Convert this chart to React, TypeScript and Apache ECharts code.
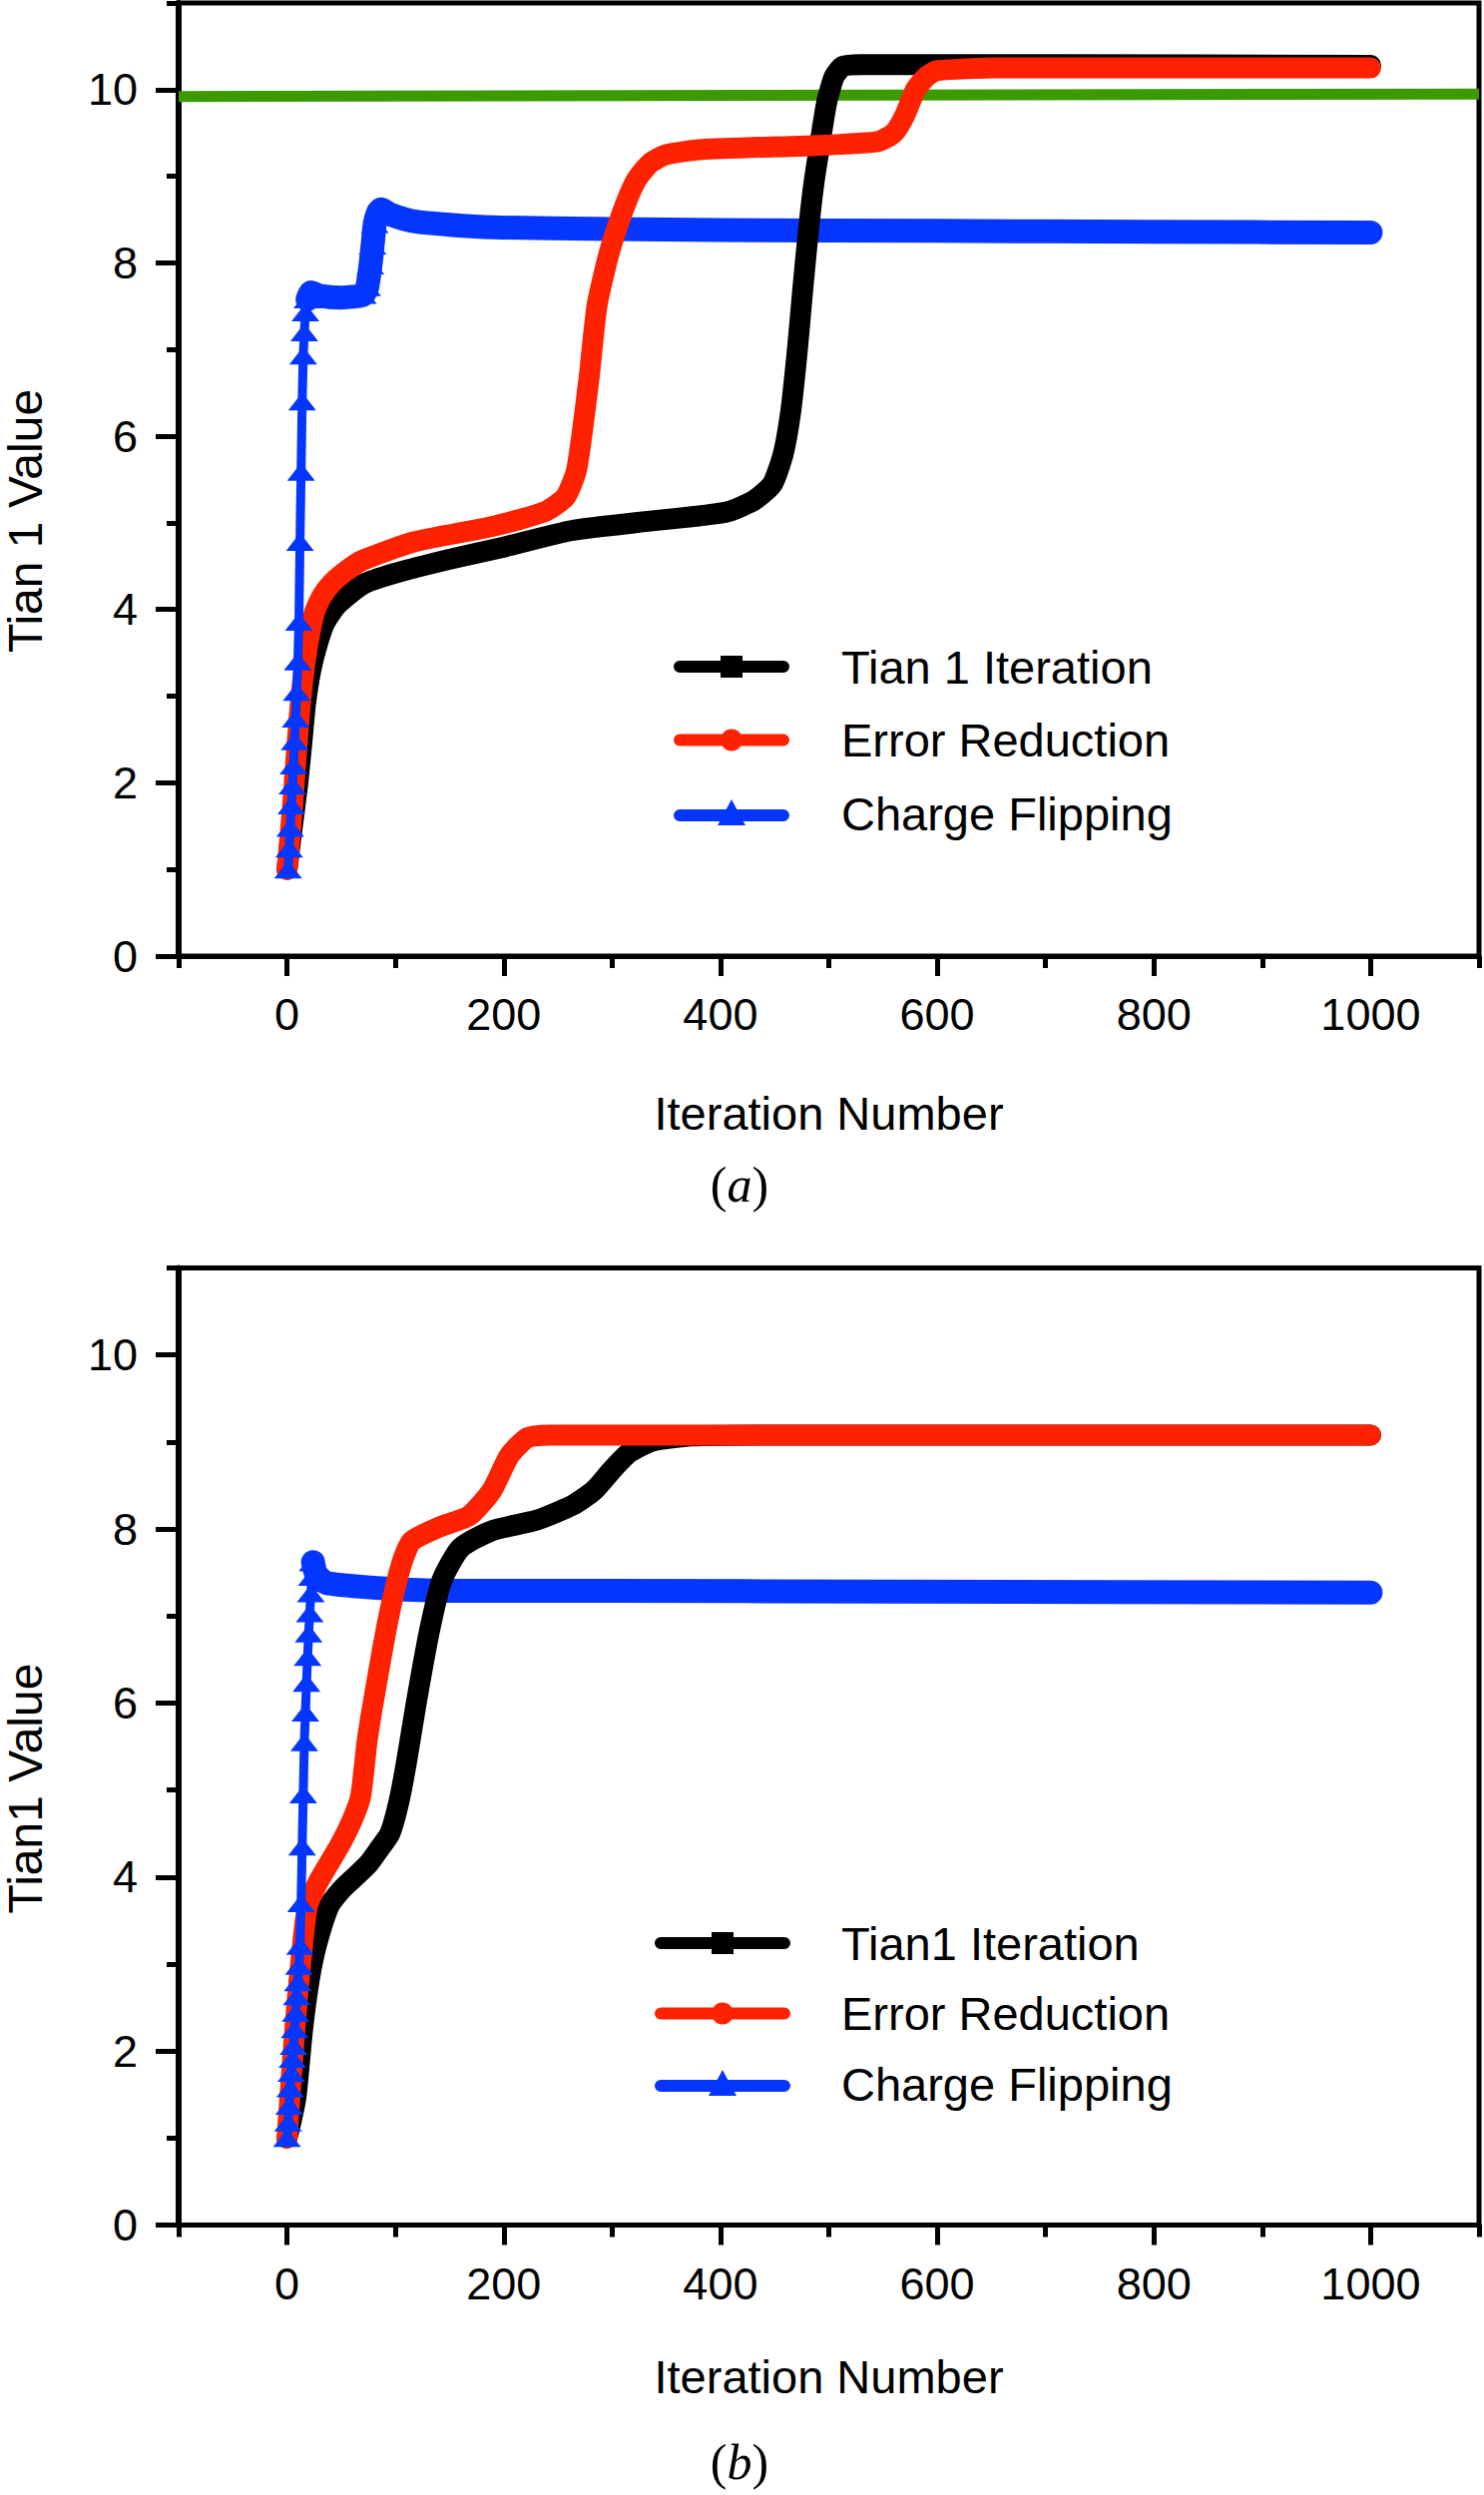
import React, { useEffect, useRef } from "react";
import * as echarts from "echarts";

// ---------- axes ----------
const X_MIN = -100;
const X_MAX = 1100;
const Y_MIN = 0;
const Y_MAX = 11;
const xMajorTicks = [0, 200, 400, 600, 800, 1000];
const xMinorTicks = [-100, 100, 300, 500, 700, 900, 1100];
const yMajorTicks = [0, 2, 4, 6, 8, 10];
const yMinorTicks = [1, 3, 5, 7, 9, 11];
const xTitle = "Iteration Number";
const yTitleA = "Tian 1 Value";
const yTitleB = "Tian1 Value";
const namesA = ["Tian 1 Iteration", "Error Reduction", "Charge Flipping"];
const namesB = ["Tian1 Iteration", "Error Reduction", "Charge Flipping"];
const panelA = "a";
const panelB = "b";

// ---------- panel (a) ----------
const tianA_x = [0, 5, 10, 14, 17, 22, 28, 35, 46, 70, 100, 150, 200, 262, 335, 380, 407, 431, 448, 458, 465, 471, 476, 481, 486, 491, 498, 505, 513, 530, 700, 1000];
const tianA_y = [1.0, 1.5, 2.0, 2.5, 2.9, 3.3, 3.6, 3.85, 4.05, 4.29, 4.42, 4.58, 4.72, 4.91, 5.02, 5.08, 5.13, 5.26, 5.45, 5.8, 6.3, 7.0, 7.7, 8.35, 8.9, 9.31, 9.85, 10.15, 10.27, 10.29, 10.29, 10.28];

const errA_x = [0, 5, 9, 13, 18, 25, 32, 41, 55, 70, 117, 190, 238, 257, 267, 273, 279, 286, 297, 310, 322, 335, 350, 383, 479, 545, 560, 570, 580, 590, 600, 656, 1000];
const errA_y = [1.0, 1.7, 2.4, 3.0, 3.5, 3.95, 4.15, 4.3, 4.45, 4.57, 4.78, 4.96, 5.13, 5.3, 5.6, 6.1, 6.7, 7.5, 8.1, 8.6, 8.95, 9.15, 9.25, 9.31, 9.35, 9.4, 9.5, 9.7, 10.0, 10.15, 10.22, 10.25, 10.25];

const flipA_x = [1, 2, 3, 4, 5, 6, 7, 8, 9, 10, 11, 12, 13, 14, 15, 16, 17, 19, 22, 30, 50, 70, 74, 77, 79, 81, 84, 87, 95, 117, 150, 190, 300, 400, 600, 800, 1000];
const flipA_y = [1.0, 1.24, 1.48, 1.74, 1.97, 2.2, 2.48, 2.74, 3.05, 3.4, 3.86, 4.78, 5.59, 6.4, 6.93, 7.2, 7.43, 7.58, 7.66, 7.62, 7.6, 7.63, 7.72, 7.97, 8.2, 8.45, 8.58, 8.62, 8.56, 8.48, 8.44, 8.41, 8.39, 8.38, 8.37, 8.36, 8.35];
const flipA_riseCount = 18;

const refA_x = [-100, 1100];
const refA_y = [9.92, 9.95];

// ---------- panel (b) ----------
const tianB_x = [0, 4, 8.5, 14.5, 20.7, 27, 39, 50, 60, 75, 85, 95, 103, 110, 119, 131, 143, 160, 189, 230, 263, 283, 300, 316, 337, 374, 450, 1000];
const tianB_y = [1.0, 1.2, 1.49, 2.26, 2.83, 3.21, 3.67, 3.85, 3.97, 4.15, 4.32, 4.5, 4.85, 5.3, 5.98, 6.8, 7.41, 7.78, 7.98, 8.1, 8.27, 8.44, 8.68, 8.88, 9.01, 9.07, 9.08, 9.08];

const errB_x = [0, 5, 9.7, 14.3, 19, 30, 48, 60, 68, 74, 82, 94, 106, 115, 140, 168, 189, 205, 222, 242, 1000];
const errB_y = [1.0, 1.87, 2.63, 3.21, 3.67, 3.97, 4.35, 4.65, 4.93, 5.57, 6.18, 7.0, 7.61, 7.86, 8.02, 8.15, 8.44, 8.84, 9.05, 9.08, 9.08];

const flipB_x = [0, 1, 2, 3, 4, 5, 6, 7, 8, 9, 10, 11, 12, 13, 14, 15, 16, 17, 18, 19, 20, 21, 22, 23, 24, 27, 36, 65, 100, 148, 300, 546, 1000];
const flipB_y = [1.0, 1.18, 1.37, 1.57, 1.75, 1.91, 2.06, 2.25, 2.44, 2.63, 2.79, 2.98, 3.21, 3.7, 4.35, 4.95, 5.55, 5.89, 6.23, 6.53, 6.8, 7.03, 7.26, 7.45, 7.62, 7.48, 7.38, 7.34, 7.31, 7.29, 7.29, 7.28, 7.27];
const flipB_riseCount = 25;

// ---------- styles ----------
const FONT = "'Liberation Sans', Arial, Helvetica, sans-serif";
const SERIF = "'Liberation Serif', 'Times New Roman', serif";
const BLACK = "#000000";
const RED = "#ff2200";
const BLUE = "#0536ff";
const GREEN = "#3a9a00";

const pairs = (xs: number[], ys: number[]) => xs.map((x, i) => [x, ys[i]]);

function legendIcon(kind: string, w: number) {
  const h = 28;
  const lc = kind === "triangle" ? 16 : 14;
  const t = 6;
  const line = `M${t},${lc - t} L${w - t},${lc - t} A${t},${t} 0 0 1 ${w - t},${lc + t} L${t},${lc + t} A${t},${t} 0 0 1 ${t},${lc - t} Z`;
  const cx = w / 2;
  let mark = "";
  if (kind === "square") mark = `M${cx - 11},3 L${cx + 11},3 L${cx + 11},25 L${cx - 11},25 Z`;
  else if (kind === "circle") mark = `M${cx - 11},14 A11,11 0 1 1 ${cx + 11},14 A11,11 0 1 1 ${cx - 11},14 Z`;
  else mark = `M${cx},0 L${cx + 14},26 L${cx - 14},26 Z`;
  return `path://M0,0 L0.01,0 Z M${w},${h} L${w - 0.01},${h} Z ${line} ${mark}`;
}

const plainNumber = (v: number) => String(v);

function xAxes(gridIndex: number, nameGap: number) {
  return [
    {
      type: "value",
      gridIndex,
      min: X_MIN,
      max: X_MAX,
      position: "bottom",
      name: xTitle,
      nameLocation: "middle",
      nameGap,
      nameMoveOverlap: false,
      nameTextStyle: { fontSize: 47, color: "#000", fontFamily: FONT },
      axisLine: { show: true, onZero: false, lineStyle: { color: "#000", width: 5 } },
      axisTick: { show: true, inside: false, length: 20, customValues: xMajorTicks, lineStyle: { color: "#000", width: 5 } },
      axisLabel: { show: true, customValues: xMajorTicks, formatter: plainNumber, margin: 36, fontSize: 45, color: "#000", fontFamily: FONT },
      splitLine: { show: false },
      minorTick: { show: false },
    },
    {
      type: "value",
      gridIndex,
      min: X_MIN,
      max: X_MAX,
      position: "bottom",
      axisLine: { show: false, onZero: false },
      axisTick: { show: true, inside: false, length: 12, customValues: xMinorTicks, lineStyle: { color: "#000", width: 5 } },
      axisLabel: { show: false },
      splitLine: { show: false },
    },
  ];
}

function yAxes(gridIndex: number, name: string, shift: number) {
  return [
    {
      type: "value",
      gridIndex,
      min: Y_MIN,
      max: Y_MAX,
      position: "left",
      name,
      nameLocation: "middle",
      nameGap: 130,
      nameRotate: 90,
      nameMoveOverlap: false,
      nameTextStyle: { fontSize: 48, color: "#000", fontFamily: FONT, padding: [0, shift, 0, 0] },
      axisLine: { show: true, onZero: false, lineStyle: { color: "#000", width: 6 } },
      axisTick: { show: true, inside: false, length: 23, customValues: yMajorTicks, lineStyle: { color: "#000", width: 5 } },
      axisLabel: { show: true, customValues: yMajorTicks, formatter: plainNumber, margin: 41, fontSize: 45, color: "#000", fontFamily: FONT },
      splitLine: { show: false },
      minorTick: { show: false },
    },
    {
      type: "value",
      gridIndex,
      min: Y_MIN,
      max: Y_MAX,
      position: "left",
      axisLine: { show: false, onZero: false },
      axisTick: { show: true, inside: false, length: 12, customValues: yMinorTicks, lineStyle: { color: "#000", width: 5 } },
      axisLabel: { show: false },
      splitLine: { show: false },
    },
  ];
}

function panelSeries(
  axisIndex: number,
  names: string[],
  tian: number[][],
  err: number[][],
  flip: number[][],
  riseCount: number
) {
  const triSize = (v: number[]) => (v[0] <= 90 ? [28, 18] : 0);
  return [
    {
      type: "line",
      name: names[2],
      xAxisIndex: axisIndex,
      yAxisIndex: axisIndex,
      data: flip.slice(riseCount - 1),
      smooth: 0.2,
      symbol: "triangle",
      symbolSize: triSize,
      showSymbol: true,
      itemStyle: { color: BLUE },
      lineStyle: { color: BLUE, width: 24, cap: "round", join: "round" },
      emphasis: { disabled: true },
    },
    {
      type: "line",
      name: names[0],
      xAxisIndex: axisIndex,
      yAxisIndex: axisIndex,
      data: tian,
      smooth: 0.2,
      symbol: "none",
      itemStyle: { color: BLACK },
      lineStyle: { color: BLACK, width: 21, cap: "round", join: "round" },
      emphasis: { disabled: true },
    },
    {
      type: "line",
      name: names[1],
      xAxisIndex: axisIndex,
      yAxisIndex: axisIndex,
      data: err,
      smooth: 0.2,
      symbol: "none",
      itemStyle: { color: RED },
      lineStyle: { color: RED, width: 21, cap: "round", join: "round" },
      emphasis: { disabled: true },
    },
    {
      type: "line",
      name: names[2],
      xAxisIndex: axisIndex,
      yAxisIndex: axisIndex,
      data: flip.slice(0, riseCount),
      symbol: "triangle",
      symbolSize: [28, 18],
      showSymbol: true,
      itemStyle: { color: BLUE },
      lineStyle: { color: BLUE, width: 9, cap: "round", join: "round" },
      emphasis: { disabled: true },
    },
  ];
}

function legendFor(names: string[], left: number, top: number, w: number, gap: number, textPad: number) {
  const kinds = ["square", "circle", "triangle"];
  return {
    orient: "vertical",
    left,
    top,
    padding: 0,
    itemWidth: w,
    itemHeight: 28,
    itemGap: gap,
    selectedMode: false,
    itemStyle: { borderWidth: 0 },
    data: names.map((n, i) => ({ name: n, icon: legendIcon(kinds[i], w) })),
    textStyle: { fontSize: 47, fontFamily: FONT, color: "#000", padding: [0, 0, 0, textPad] },
  };
}

function panelLabel(letter: string, x: number, y: number) {
  return {
    type: "text",
    x,
    y,
    silent: true,
    style: {
      text: `{p|(}{i|${letter}}{p|)}`,
      align: "center",
      verticalAlign: "middle",
      rich: {
        p: { fontFamily: SERIF, fontSize: 50, fill: "#000" },
        i: { fontFamily: SERIF, fontSize: 50, fontStyle: "italic", fill: "#000" },
      },
    },
  };
}

export default function App() {
  const ref = useRef<HTMLDivElement>(null);

  useEffect(() => {
    document.body.style.margin = "0";
    if (!ref.current) return;
    const chart = echarts.init(ref.current, undefined, { renderer: "svg" });

    const gridCommon = {
      show: true,
      borderColor: "#000",
      borderWidth: 5,
      backgroundColor: "transparent",
      containLabel: false,
      outerBoundsMode: "none",
    };

    const option: any = {
      animation: false,
      backgroundColor: "#ffffff",
      grid: [
        { ...gridCommon, left: 179, top: 3, width: 1303, height: 955 },
        { ...gridCommon, left: 179, top: 1270.5, width: 1303, height: 959 },
      ],
      xAxis: [...xAxes(0, 134), ...xAxes(1, 128)],
      yAxis: [...yAxes(0, yTitleA, 83), ...yAxes(1, yTitleB, 84)],
      legend: [
        legendFor(namesA, 675, 644.5, 116, 26.5, 47),
        legendFor(namesB, 656, 1923.5, 136, 23.5, 46),
      ],
      graphic: [panelLabel(panelA, 741, 1187), panelLabel(panelB, 741, 2467)],
      series: [
        {
          type: "line",
          name: "Reference",
          xAxisIndex: 0,
          yAxisIndex: 0,
          data: pairs(refA_x, refA_y),
          symbol: "none",
          lineStyle: { color: GREEN, width: 11 },
          itemStyle: { color: GREEN },
          emphasis: { disabled: true },
        },
        ...panelSeries(0, namesA, pairs(tianA_x, tianA_y), pairs(errA_x, errA_y), pairs(flipA_x, flipA_y), flipA_riseCount),
        ...panelSeries(2, namesB, pairs(tianB_x, tianB_y), pairs(errB_x, errB_y), pairs(flipB_x, flipB_y), flipB_riseCount),
      ],
    };

    chart.setOption(option);
    return () => {
      chart.dispose();
    };
  }, []);

  return <div ref={ref} style={{ width: 1487, height: 2500 }} />;
}
